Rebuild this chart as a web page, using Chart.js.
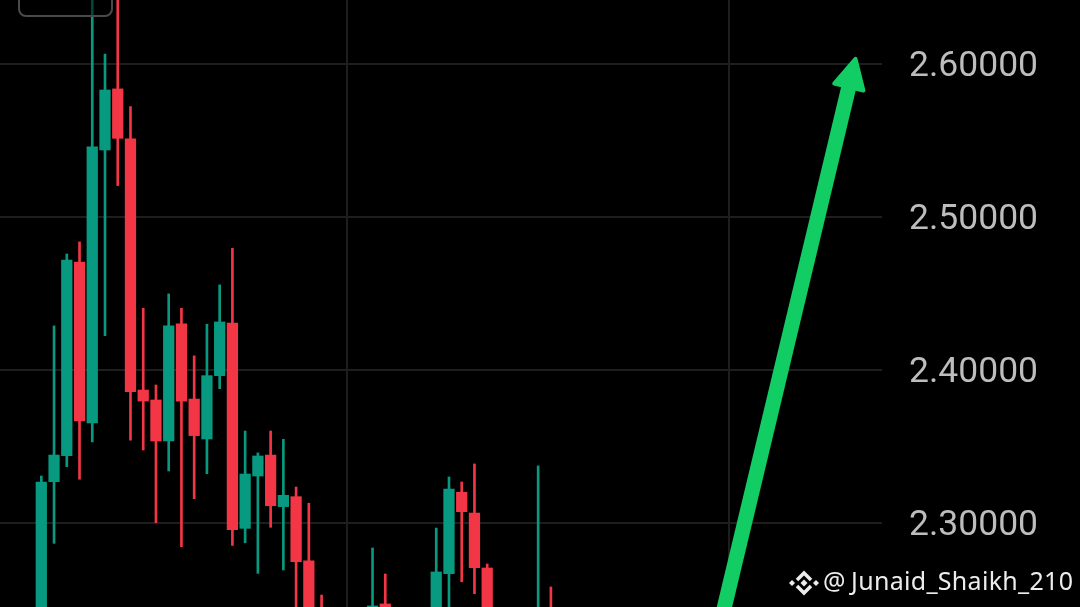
<!DOCTYPE html>
<html>
<head>
<meta charset="utf-8">
<script src="https://cdn.jsdelivr.net/npm/chart.js@4.4.0/dist/chart.umd.min.js"></script>
<style>
  html, body { margin: 0; padding: 0; background: #000; }
  canvas { display: block; }
</style>
</head>
<body>
<canvas id="priceChart" width="1080" height="607"></canvas>
<script>
// candle slot positions (bars that sit entirely below the view are left out)
var slots  = [0, 1, 2, 3, 4, 5, 6, 7, 8, 9, 10, 11, 12, 13, 14, 15, 16, 17, 18, 19, 20, 21, 22, 26, 27, 31, 32, 33, 34, 35, 39, 40];
var opens  = [2.2150, 2.3270, 2.3440, 2.4706, 2.3654, 2.5438, 2.5837, 2.5510, 2.3869, 2.3804, 2.3536, 2.4301, 2.3810, 2.3549, 2.3963, 2.4307,
              2.2965, 2.3307, 2.3444, 2.3107, 2.3172, 2.2752, 2.2350, 2.2300, 2.2471, 2.2300, 2.2669, 2.3201, 2.3065, 2.2706, 2.2000, 2.2400];
var highs  = [2.3307, 2.4288, 2.4758, 2.4837, 2.6600, 2.6065, 2.6500, 2.5721, 2.4403, 2.3902, 2.4497, 2.4403, 2.4092, 2.4299, 2.4556, 2.4795,
              2.3601, 2.3458, 2.3601, 2.3547, 2.3235, 2.3129, 2.2529, 2.2837, 2.2667, 2.2967, 2.3301, 2.3268, 2.3386, 2.2732, 2.3373, 2.2582];
var lows   = [2.2000, 2.2867, 2.3368, 2.3286, 2.3530, 2.4224, 2.5205, 2.3542, 2.3477, 2.3002, 2.3340, 2.2845, 2.3159, 2.3322, 2.3878, 2.2854,
              2.2871, 2.2671, 2.2972, 2.2693, 2.2300, 2.2100, 2.1900, 2.2200, 2.2100, 2.2200, 2.2350, 2.2616, 2.2538, 2.2100, 2.1900, 2.2000];
var closes = [2.3268, 2.3444, 2.4719, 2.3667, 2.5458, 2.5830, 2.5514, 2.3858, 2.3797, 2.3536, 2.4288, 2.3797, 2.3571, 2.3963, 2.4314, 2.2956,
              2.3320, 2.3438, 2.3113, 2.3181, 2.2747, 2.2200, 2.2000, 2.2458, 2.2300, 2.2680, 2.3222, 2.3074, 2.2708, 2.2200, 2.2400, 2.2200];

var priceTicks = [2.3, 2.4, 2.5, 2.6];
var timeGrid = [24, 54];

// drawn arrow, in slot / price units: [start, tip]
var arrowX = [52.9, 63.95];
var arrowY = [2.22, 2.6046];

var upColor = '#089981';
var downColor = '#f23645';

var candleColors = closes.map(function(c, i) { return c >= opens[i] ? upColor : downColor; });
var bodies = slots.map(function(s, i) { return { x: s, y: [opens[i], closes[i]] }; });
var wicks = slots.map(function(s, i) { return { x: s, y: [lows[i], highs[i]] }; });

function noPadding(axis) {
    axis.paddingTop = 0;
    axis.paddingBottom = 0;
    axis.paddingLeft = 0;
    axis.paddingRight = 0;
}

var overlay = {
    id: 'overlay',
    afterDatasetsDraw: function(chart) {
        var ctx = chart.ctx;
        var xs = chart.scales.x, ys = chart.scales.y;
        var x0 = xs.getPixelForValue(arrowX[0]), y0 = ys.getPixelForValue(arrowY[0]);
        var x1 = xs.getPixelForValue(arrowX[1]), y1 = ys.getPixelForValue(arrowY[1]);
        var len = Math.hypot(x1 - x0, y1 - y0);
        var ux = (x1 - x0) / len, uy = (y1 - y0) / len;
        var head = 29, half = 15;
        var tx = x1 - ux * 2, ty = y1 - uy * 2;
        var bx = tx - ux * head, by = ty - uy * head;

        ctx.save();
        ctx.strokeStyle = '#12cd64';
        ctx.fillStyle = '#12cd64';
        ctx.lineWidth = 15;
        ctx.beginPath();
        ctx.moveTo(x0, y0);
        ctx.lineTo(bx + ux * 4, by + uy * 4);
        ctx.stroke();

        ctx.lineWidth = 4;
        ctx.lineJoin = 'round';
        ctx.beginPath();
        ctx.moveTo(tx, ty);
        ctx.lineTo(bx - uy * half, by + ux * half);
        ctx.lineTo(bx + uy * half, by - ux * half);
        ctx.closePath();
        ctx.fill();
        ctx.stroke();
        ctx.restore();
    },
    afterDraw: function(chart) {
        var ctx = chart.ctx;
        ctx.save();
        // cut-off label box at the top left
        ctx.beginPath();
        ctx.roundRect(19, -12, 93, 28, 7);
        ctx.fillStyle = 'rgba(0,0,0,0.55)';
        ctx.fill();
        ctx.strokeStyle = '#4a4a4a';
        ctx.lineWidth = 2;
        ctx.stroke();

        // watermark
        ctx.fillStyle = '#ececec';
        ctx.strokeStyle = '#ececec';
        ctx.lineWidth = 3.5;
        ctx.beginPath();
        ctx.moveTo(797, 580); ctx.lineTo(804, 573); ctx.lineTo(811, 580);
        ctx.moveTo(797, 586); ctx.lineTo(804, 593); ctx.lineTo(811, 586);
        ctx.stroke();
        [[792, 583, 3], [816, 583, 3], [804, 583, 3.5]].forEach(function(d) {
            ctx.beginPath();
            ctx.moveTo(d[0] - d[2], d[1]);
            ctx.lineTo(d[0], d[1] - d[2]);
            ctx.lineTo(d[0] + d[2], d[1]);
            ctx.lineTo(d[0], d[1] + d[2]);
            ctx.closePath();
            ctx.fill();
        });
        ctx.font = '25px "Noto Sans"';
        ctx.textBaseline = 'alphabetic';
        ctx.textAlign = 'left';
        ctx.letterSpacing = '0.3px';
        ctx.fillText('@', 823, 590);
        ctx.fillText('Junaid_Shaikh_210', 851, 590);
        ctx.restore();
    }
};

var ctx = document.getElementById('priceChart').getContext('2d');
var priceChart = new Chart(ctx, {
    type: 'bar',
    data: {
        datasets: [{
            label: 'body',
            data: bodies,
            backgroundColor: candleColors,
            barThickness: 10.6,
            grouped: false,
            borderWidth: 0,
            borderSkipped: false
        }, {
            label: 'wick',
            data: wicks,
            backgroundColor: candleColors,
            barThickness: 2,
            grouped: false,
            borderWidth: 0,
            borderSkipped: false
        }]
    },
    options: {
        responsive: false,
        animation: false,
        events: [],
        layout: { padding: 0 },
        plugins: {
            legend: { display: false },
            tooltip: { enabled: false }
        },
        scales: {
            x: {
                type: 'linear',
                offset: false,
                min: -3.242,
                max: 65.99,
                border: { display: false },
                grid: { color: '#1e1e1e', lineWidth: 2, drawTicks: false, offset: false },
                ticks: { display: false },
                afterBuildTicks: function(axis) {
                    axis.ticks = timeGrid.map(function(v) { return { value: v }; });
                },
                afterFit: function(axis) {
                    axis.height = 0;
                    noPadding(axis);
                }
            },
            y: {
                position: 'right',
                min: 2.2451,
                max: 2.6418,
                border: { display: false },
                grid: { color: '#1e1e1e', lineWidth: 2, drawTicks: false },
                ticks: {
                    color: '#bdbdbd',
                    padding: 27,
                    font: { family: 'Roboto', size: 35.5, lineHeight: '6px' },
                    // empty first line nudges the label a few px down onto its grid line
                    callback: function(value) { return ['', value.toFixed(5)]; }
                },
                afterBuildTicks: function(axis) {
                    axis.ticks = priceTicks.map(function(v) { return { value: v }; });
                },
                afterFit: function(axis) {
                    axis.width = 198;
                    noPadding(axis);
                }
            }
        }
    },
    plugins: [overlay]
});
</script>
</body>
</html>
